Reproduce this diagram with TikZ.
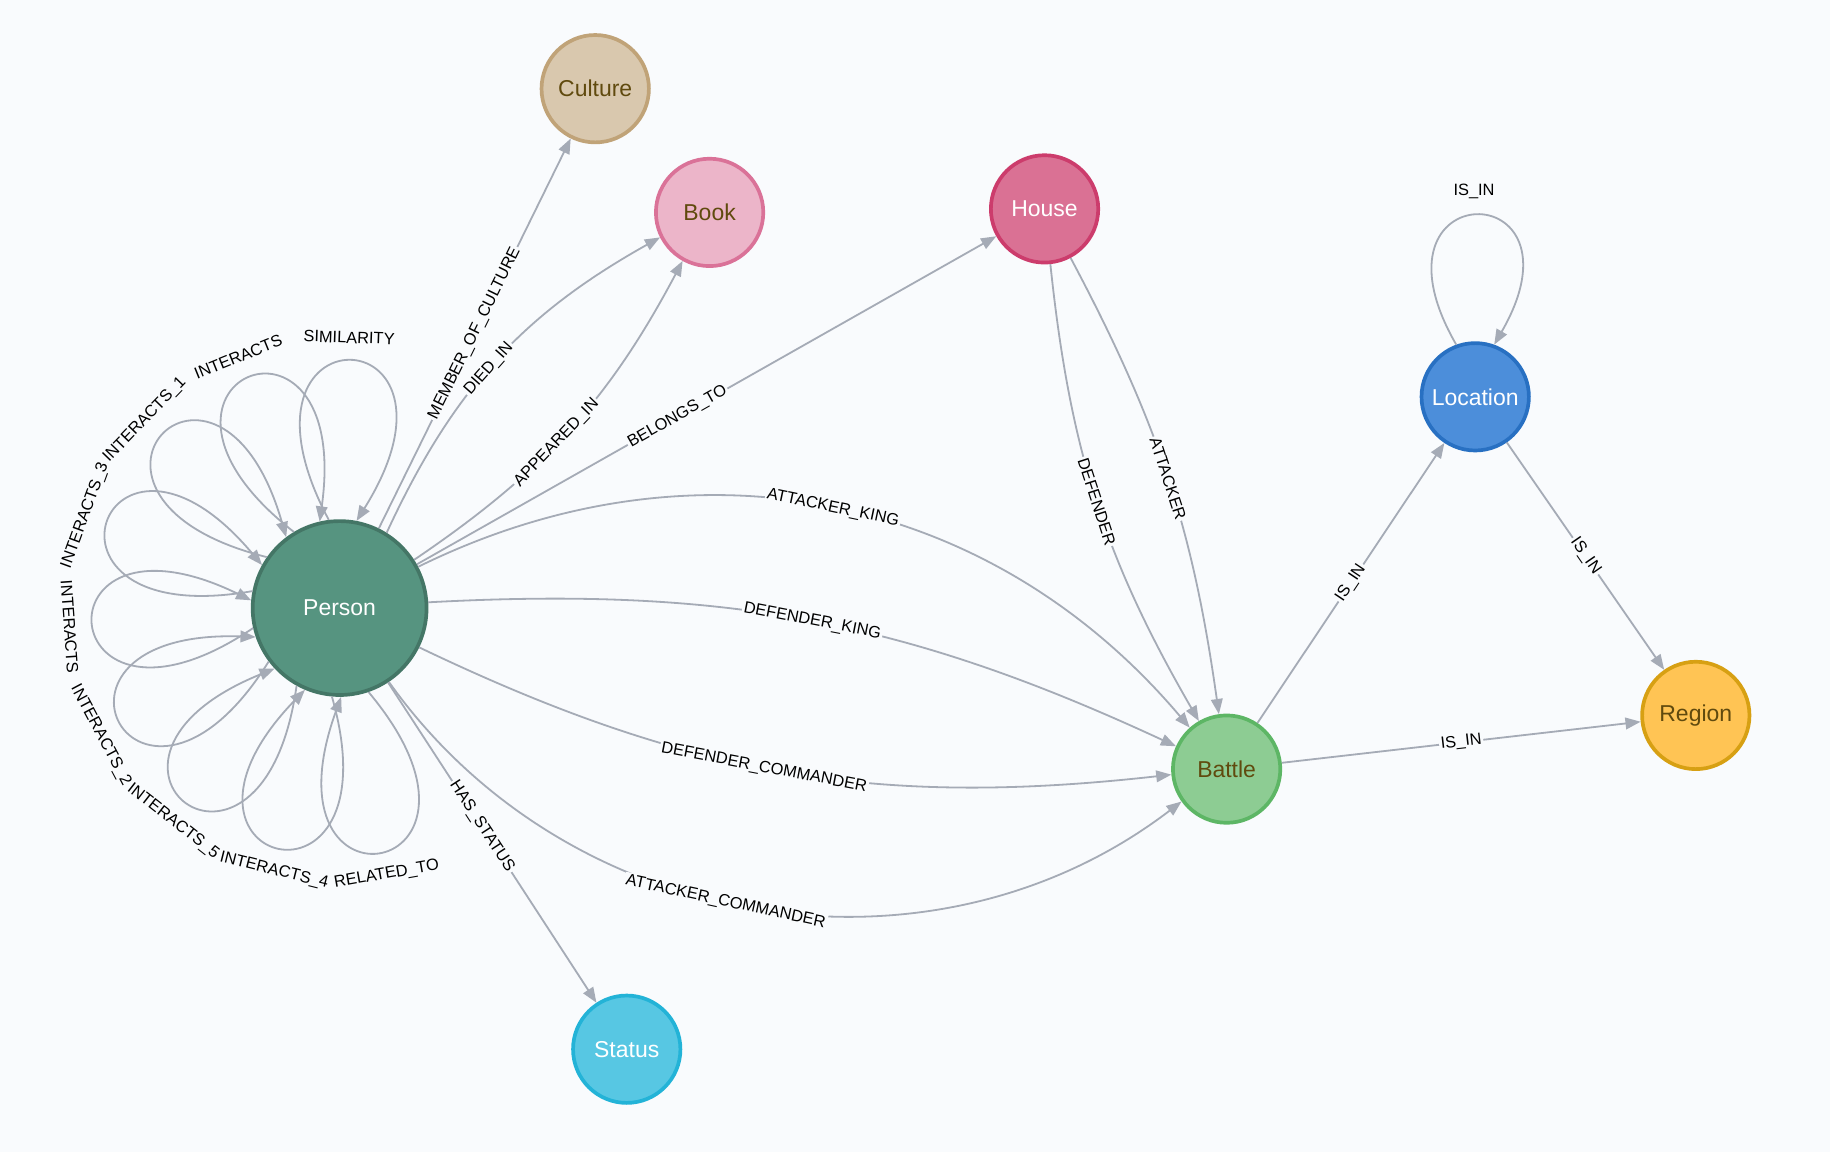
\documentclass[tikz,border=0pt]{standalone}
\usepackage{fontspec}
\setmainfont{Liberation Sans}
\usetikzlibrary{arrows.meta,calc}
\definecolor{bg}{HTML}{F9FBFD}
\definecolor{edgec}{HTML}{A5ABB6}
\definecolor{brownt}{HTML}{604A0E}
\definecolor{pf}{HTML}{569480}\definecolor{pd}{HTML}{447666}
\definecolor{cf}{RGB}{217,200,174}\definecolor{cd}{RGB}{192,163,120}
\definecolor{bf}{RGB}{236,181,201}\definecolor{bd}{RGB}{218,114,152}
\definecolor{hf}{RGB}{218,113,148}\definecolor{hd}{RGB}{204,60,108}
\definecolor{lf}{RGB}{76,142,218}\definecolor{ld}{RGB}{40,112,194}
\definecolor{rf}{RGB}{255,196,84}\definecolor{rd}{RGB}{215,160,19}
\definecolor{baf}{RGB}{141,204,147}\definecolor{bad}{RGB}{93,182,101}
\definecolor{sf}{RGB}{87,199,227}\definecolor{sd}{RGB}{35,179,215}
\tikzset{
 nd/.style={circle,line width=4.5pt,inner sep=0pt,font=\fontsize{28}{32}\selectfont},
 sm/.style={nd,minimum size=4.6cm},
 arr/.style={draw=edgec,line width=2.2pt,-{Triangle[length=0.65cm,width=0.5cm]}},
 lbl/.style={font=\fontsize{20}{22}\selectfont,fill=bg,inner sep=2pt,text=black},
 llb/.style={font=\fontsize{20}{22}\selectfont,inner sep=1pt,text=black}
}
\begin{document}
\begin{tikzpicture}[x=0.05cm,y=-0.05cm]
\fill[bg] (0,0) rectangle (1568,987);
\useasboundingbox (0,0) rectangle (1568,987);
\node[nd,minimum size=7.45cm,fill=pf,draw=pd,text=white] (P) at (291,521) {Person};
\node[sm,fill=cf,draw=cd,text=brownt] (C) at (510,76) {Culture};
\node[sm,fill=bf,draw=bd,text=brownt] (B) at (608,182) {Book};
\node[sm,fill=hf,draw=hd,text=white] (H) at (895,179) {House};
\node[sm,fill=lf,draw=ld,text=white] (L) at (1264,340) {Location};
\node[sm,fill=rf,draw=rd,text=brownt] (R) at (1453,613) {Region};
\node[sm,fill=baf,draw=bad,text=brownt] (Ba) at (1051,659) {Battle};
\node[sm,fill=sf,draw=sd,text=white] (S) at (537,899) {Status};

% Person loops
\foreach \a/\t in {88/SIMILARITY,112/INTERACTS,136/INTERACTS\_1,160/INTERACTS\_3,184/INTERACTS,208/INTERACTS\_2,232/INTERACTS\_5,256/INTERACTS\_4,280/RELATED\_TO}{
  \draw[arr] (P.{\a+9}) .. controls +(\a+30:10.5cm) and +(\a-30:10.5cm) .. (P.{\a-9});
  \pgfmathsetmacro\rot{\a<180 ? \a-90 : \a-270}
  \node[llb,rotate=\rot] at ($(P)+(\a:11.6cm)$) {\t};
}
% Location loop
\draw[arr] (L.110) .. controls +(120:8.5cm) and +(60:8.5cm) .. (L.70);
\node[llb] at (1263,164) {IS\_IN};

\draw[arr] (P) -- node[lbl,sloped,pos=0.5]{MEMBER\_OF\_CULTURE} (C);
\draw[arr] (P.58) to[bend left=18] node[lbl,sloped,pos=0.47]{DIED\_IN} (B);
\draw[arr] (P) to[bend right=14] node[lbl,sloped,pos=0.45]{APPEARED\_IN} (B);
\draw[arr] (P) -- node[lbl,sloped,pos=0.45]{BELONGS\_TO} (H);
\draw[arr] (P) to[bend left=38] node[lbl,sloped,pos=0.5]{ATTACKER\_KING} (Ba);
\draw[arr] (P) to[bend left=14] node[lbl,sloped,pos=0.5]{DEFENDER\_KING} (Ba);
\draw[arr] (P) to[bend right=16] node[lbl,sloped,pos=0.47]{DEFENDER\_COMMANDER} (Ba);
\draw[arr] (P) to[bend right=46] node[lbl,sloped,pos=0.46]{ATTACKER\_COMMANDER} (Ba);
\draw[arr] (P) -- node[lbl,sloped,pos=0.45]{HAS\_STATUS} (S);
\draw[arr] (H) to[bend right=12] node[lbl,sloped,pos=0.5]{DEFENDER} (Ba);
\draw[arr] (H) to[bend left=10] node[lbl,sloped,pos=0.5]{ATTACKER} (Ba);
\draw[arr] (Ba) -- node[lbl,sloped]{IS\_IN} (L);
\draw[arr] (L) -- node[lbl,sloped]{IS\_IN} (R);
\draw[arr] (Ba) -- node[lbl,sloped]{IS\_IN} (R);
\end{tikzpicture}
\end{document}
